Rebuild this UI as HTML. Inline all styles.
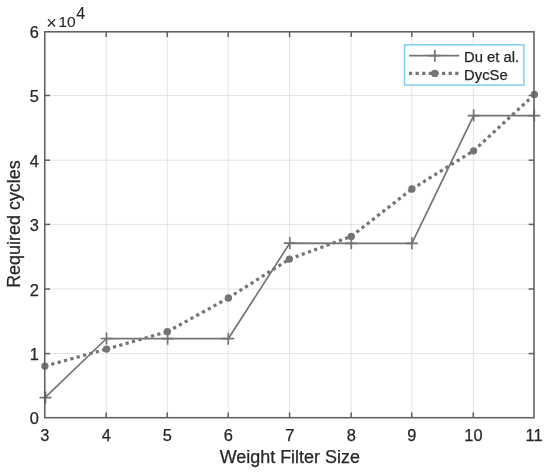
<!DOCTYPE html>
<html><head><meta charset="utf-8"><title>Required cycles vs Weight Filter Size</title>
<style>
html,body{margin:0;padding:0;background:#fff;}
svg{display:block;}
text{fill:#262626;stroke:#262626;stroke-width:0.25px;font-family:'Liberation Sans', Arial, Helvetica, sans-serif;}
</style></head>
<body>
<svg width="550" height="474" viewBox="0 0 550 474">
<line x1="106.20" y1="31.80" x2="106.20" y2="417.70" stroke="#e4e4e4" stroke-width="1"/>
<line x1="167.30" y1="31.80" x2="167.30" y2="417.70" stroke="#e4e4e4" stroke-width="1"/>
<line x1="228.20" y1="31.80" x2="228.20" y2="417.70" stroke="#e4e4e4" stroke-width="1"/>
<line x1="289.60" y1="31.80" x2="289.60" y2="417.70" stroke="#e4e4e4" stroke-width="1"/>
<line x1="351.20" y1="31.80" x2="351.20" y2="417.70" stroke="#e4e4e4" stroke-width="1"/>
<line x1="411.75" y1="31.80" x2="411.75" y2="417.70" stroke="#e4e4e4" stroke-width="1"/>
<line x1="473.30" y1="31.80" x2="473.30" y2="417.70" stroke="#e4e4e4" stroke-width="1"/>
<line x1="44.75" y1="353.60" x2="534.00" y2="353.60" stroke="#e4e4e4" stroke-width="1"/>
<line x1="44.75" y1="289.00" x2="534.00" y2="289.00" stroke="#e4e4e4" stroke-width="1"/>
<line x1="44.75" y1="224.40" x2="534.00" y2="224.40" stroke="#e4e4e4" stroke-width="1"/>
<line x1="44.75" y1="160.20" x2="534.00" y2="160.20" stroke="#e4e4e4" stroke-width="1"/>
<line x1="44.75" y1="95.50" x2="534.00" y2="95.50" stroke="#e4e4e4" stroke-width="1"/>
<line x1="106.20" y1="417.70" x2="106.20" y2="412.40" stroke="#5f5f5f" stroke-width="1.5"/>
<line x1="106.20" y1="31.80" x2="106.20" y2="37.10" stroke="#5f5f5f" stroke-width="1.5"/>
<line x1="167.30" y1="417.70" x2="167.30" y2="412.40" stroke="#5f5f5f" stroke-width="1.5"/>
<line x1="167.30" y1="31.80" x2="167.30" y2="37.10" stroke="#5f5f5f" stroke-width="1.5"/>
<line x1="228.20" y1="417.70" x2="228.20" y2="412.40" stroke="#5f5f5f" stroke-width="1.5"/>
<line x1="228.20" y1="31.80" x2="228.20" y2="37.10" stroke="#5f5f5f" stroke-width="1.5"/>
<line x1="289.60" y1="417.70" x2="289.60" y2="412.40" stroke="#5f5f5f" stroke-width="1.5"/>
<line x1="289.60" y1="31.80" x2="289.60" y2="37.10" stroke="#5f5f5f" stroke-width="1.5"/>
<line x1="351.20" y1="417.70" x2="351.20" y2="412.40" stroke="#5f5f5f" stroke-width="1.5"/>
<line x1="351.20" y1="31.80" x2="351.20" y2="37.10" stroke="#5f5f5f" stroke-width="1.5"/>
<line x1="411.75" y1="417.70" x2="411.75" y2="412.40" stroke="#5f5f5f" stroke-width="1.5"/>
<line x1="411.75" y1="31.80" x2="411.75" y2="37.10" stroke="#5f5f5f" stroke-width="1.5"/>
<line x1="473.30" y1="417.70" x2="473.30" y2="412.40" stroke="#5f5f5f" stroke-width="1.5"/>
<line x1="473.30" y1="31.80" x2="473.30" y2="37.10" stroke="#5f5f5f" stroke-width="1.5"/>
<line x1="44.75" y1="353.60" x2="50.05" y2="353.60" stroke="#5f5f5f" stroke-width="1.5"/>
<line x1="534.00" y1="353.60" x2="528.70" y2="353.60" stroke="#5f5f5f" stroke-width="1.5"/>
<line x1="44.75" y1="289.00" x2="50.05" y2="289.00" stroke="#5f5f5f" stroke-width="1.5"/>
<line x1="534.00" y1="289.00" x2="528.70" y2="289.00" stroke="#5f5f5f" stroke-width="1.5"/>
<line x1="44.75" y1="224.40" x2="50.05" y2="224.40" stroke="#5f5f5f" stroke-width="1.5"/>
<line x1="534.00" y1="224.40" x2="528.70" y2="224.40" stroke="#5f5f5f" stroke-width="1.5"/>
<line x1="44.75" y1="160.20" x2="50.05" y2="160.20" stroke="#5f5f5f" stroke-width="1.5"/>
<line x1="534.00" y1="160.20" x2="528.70" y2="160.20" stroke="#5f5f5f" stroke-width="1.5"/>
<line x1="44.75" y1="95.50" x2="50.05" y2="95.50" stroke="#5f5f5f" stroke-width="1.5"/>
<line x1="534.00" y1="95.50" x2="528.70" y2="95.50" stroke="#5f5f5f" stroke-width="1.5"/>
<polyline points="45.50,397.10 106.50,338.50 167.60,338.70 228.30,338.70 289.80,243.10 351.30,243.30 411.90,243.30 473.66,115.60 534.30,115.60" fill="none" stroke="#747474" stroke-width="1.7" stroke-linejoin="round"/>
<path d="M39.50,397.60H51.50M45.50,391.60V403.60" stroke="#747474" stroke-width="1.7"/>
<path d="M100.50,338.50H112.50M106.50,332.50V344.50" stroke="#747474" stroke-width="1.7"/>
<path d="M161.60,338.70H173.60M167.60,332.70V344.70" stroke="#747474" stroke-width="1.7"/>
<path d="M222.30,338.70H234.30M228.30,332.70V344.70" stroke="#747474" stroke-width="1.7"/>
<path d="M283.80,243.10H295.80M289.80,237.10V249.10" stroke="#747474" stroke-width="1.7"/>
<path d="M345.30,243.30H357.30M351.30,237.30V249.30" stroke="#747474" stroke-width="1.7"/>
<path d="M405.90,243.30H417.90M411.90,237.30V249.30" stroke="#747474" stroke-width="1.7"/>
<path d="M467.66,115.60H479.66M473.66,109.60V121.60" stroke="#747474" stroke-width="1.7"/>
<path d="M528.30,115.60H540.30M534.30,109.60V121.60" stroke="#747474" stroke-width="1.7"/>
<g fill="none" stroke="#747474" stroke-width="3.2" stroke-dasharray="3.2 3.4">
<line x1="44.90" y1="366.10" x2="106.60" y2="349.10"/>
<line x1="106.60" y1="349.10" x2="167.40" y2="331.70"/>
<line x1="167.40" y1="331.70" x2="228.40" y2="298.00"/>
<line x1="228.40" y1="298.00" x2="289.40" y2="259.10"/>
<line x1="289.40" y1="259.10" x2="351.30" y2="236.40"/>
<line x1="351.30" y1="236.40" x2="411.90" y2="189.00"/>
<line x1="411.90" y1="189.00" x2="473.60" y2="150.80"/>
<line x1="473.60" y1="150.80" x2="534.40" y2="94.50"/>
</g>
<circle cx="44.90" cy="366.10" r="3.65" fill="#747474"/>
<circle cx="106.60" cy="349.10" r="3.65" fill="#747474"/>
<circle cx="167.40" cy="331.70" r="3.65" fill="#747474"/>
<circle cx="228.40" cy="298.00" r="3.65" fill="#747474"/>
<circle cx="289.40" cy="259.10" r="3.65" fill="#747474"/>
<circle cx="351.30" cy="236.40" r="3.65" fill="#747474"/>
<circle cx="411.90" cy="189.00" r="3.65" fill="#747474"/>
<circle cx="473.60" cy="150.80" r="3.65" fill="#747474"/>
<circle cx="534.40" cy="94.50" r="3.65" fill="#747474"/>
<rect x="44.75" y="31.80" width="489.25" height="385.90" fill="none" stroke="#5f5f5f" stroke-width="1.55"/>
<text x="44.85" y="441.00" text-anchor="middle" font-size="16.4">3</text>
<text x="106.30" y="441.00" text-anchor="middle" font-size="16.4">4</text>
<text x="167.40" y="441.00" text-anchor="middle" font-size="16.4">5</text>
<text x="228.30" y="441.00" text-anchor="middle" font-size="16.4">6</text>
<text x="289.70" y="441.00" text-anchor="middle" font-size="16.4">7</text>
<text x="351.30" y="441.00" text-anchor="middle" font-size="16.4">8</text>
<text x="411.85" y="441.00" text-anchor="middle" font-size="16.4">9</text>
<text x="473.40" y="441.00" text-anchor="middle" font-size="16.4">10</text>
<text x="534.10" y="441.00" text-anchor="middle" font-size="16.4">11</text>
<text x="38.85" y="424.20" text-anchor="end" font-size="16.4">0</text>
<text x="38.85" y="360.10" text-anchor="end" font-size="16.4">1</text>
<text x="38.85" y="295.50" text-anchor="end" font-size="16.4">2</text>
<text x="38.85" y="230.90" text-anchor="end" font-size="16.4">3</text>
<text x="38.85" y="166.70" text-anchor="end" font-size="16.4">4</text>
<text x="38.85" y="102.00" text-anchor="end" font-size="16.4">5</text>
<text x="38.85" y="38.30" text-anchor="end" font-size="16.4">6</text>
<text x="46.2" y="28.9" font-size="18" style="stroke:none">×</text>
<text x="58.5" y="26.8" font-size="15.5" style="stroke-width:0.1px">10</text>
<text x="76.3" y="18.6" font-size="16.1" style="stroke-width:0.1px">4</text>
<text x="289.8" y="462.5" text-anchor="middle" font-size="17.95">Weight Filter Size</text>
<text transform="translate(19.5,224.05) rotate(-90)" text-anchor="middle" font-size="17.95">Required cycles</text>
<rect x="404.55" y="44.85" width="119.30" height="40.25" fill="#ffffff" stroke="#7dcff2" stroke-width="1.5"/>
<line x1="409.2" y1="55.7" x2="459.4" y2="55.7" stroke="#747474" stroke-width="1.7"/>
<path d="M428.8,55.7H440.8M434.8,49.7V61.7" stroke="#747474" stroke-width="1.7"/>
<line x1="409.0" y1="73.4" x2="459.4" y2="73.4" stroke="#747474" stroke-width="3.2" stroke-dasharray="3.2 3.4"/>
<circle cx="434.8" cy="73.4" r="3.65" fill="#747474"/>
<text x="464.1" y="61.5" font-size="14.8">Du et al.</text>
<text x="464.1" y="79.7" font-size="14.8">DycSe</text>
</svg>
</body></html>
